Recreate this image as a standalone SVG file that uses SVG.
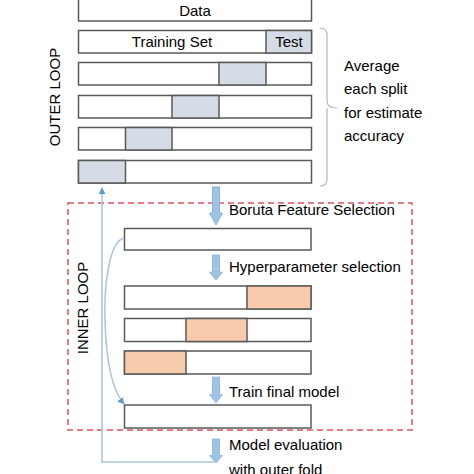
<svg xmlns="http://www.w3.org/2000/svg" width="474" height="474" viewBox="0 0 474 474">
<defs>
<style>
.box{fill:#fff;stroke:#595959;stroke-width:1.5}
.g{fill:#d6dce5;stroke:#595959;stroke-width:1.5}
.o{fill:#f8cbad;stroke:#595959;stroke-width:1.5}
.t{font-family:"Liberation Sans",Arial,sans-serif;font-size:15px;fill:#000}
.blk{fill:#9dc3e6;stroke:#8db3dc;stroke-width:1}
.ln{fill:none;stroke:#a8c4e0;stroke-width:1.5}
</style>
<marker id="ah" viewBox="0 0 10 10" refX="9" refY="5" markerWidth="7" markerHeight="7" orient="auto" markerUnits="userSpaceOnUse">
<path d="M0,0 L10,5 L0,10 z" fill="#5b9bd5"/>
</marker>
<path id="barrow" d="M-3.5,0 H3.5 V26 H6.5 L0,38 L-6.5,26 H-3.5 Z"/>
</defs>
<rect width="474" height="474" fill="#fff"/>

<g id="data"><rect class="box" x="78.5" y="-1" width="233" height="22"/><text class="t" x="195" y="16" text-anchor="middle">Data</text></g>
<g id="split1"><rect class="box" x="78.5" y="30.5" width="233" height="22.5"/><rect class="g" x="266" y="30.5" width="45.5" height="22.5"/><text class="t" x="172" y="47" text-anchor="middle">Training Set</text><text class="t" x="289" y="47" text-anchor="middle">Test</text></g>
<g id="split2"><rect class="box" x="78.5" y="62.5" width="233" height="22.5"/><rect class="g" x="219" y="62.5" width="47" height="22.5"/></g>
<g id="split3"><rect class="box" x="78.5" y="95.5" width="233" height="22.5"/><rect class="g" x="172" y="95.5" width="47" height="22.5"/></g>
<g id="split4"><rect class="box" x="78.5" y="127.5" width="233" height="22.5"/><rect class="g" x="125.5" y="127.5" width="46.5" height="22.5"/></g>
<g id="split5"><rect class="box" x="78.5" y="160.5" width="233" height="22.5"/><rect class="g" x="78.5" y="160.5" width="47" height="22.5"/></g>

<g id="outer-label"><text class="t" transform="translate(60,97) rotate(-90)" text-anchor="middle">OUTER LOOP</text></g>

<g id="brace"><path d="M320,28 Q327,28 327,35 V101 Q327,108 337,108 M327,108 Q327,108 327,115 V179 Q327,186 320,186" fill="none" stroke="#aab8c8" stroke-width="1.2"/></g>
<g id="avg-label"><text class="t"><tspan x="344" y="71">Average</tspan><tspan x="344" y="94">each split</tspan><tspan x="344" y="118">for estimate</tspan><tspan x="344" y="141">accuracy</tspan></text></g>

<g id="inner-frame"><rect x="68" y="203" width="344" height="227" fill="none" stroke="#e0525c" stroke-width="1.5" stroke-dasharray="6,4"/></g>
<g id="inner-label"><text class="t" transform="translate(88,308) rotate(-90)" text-anchor="middle">INNER LOOP</text></g>

<g id="selected"><rect class="box" x="124.5" y="228.5" width="186.5" height="21.5"/></g>
<g id="inner1"><rect class="box" x="124.5" y="286" width="186.5" height="23"/><rect class="o" x="247" y="286" width="64" height="23"/></g>
<g id="inner2"><rect class="box" x="124.5" y="318.5" width="186.5" height="23"/><rect class="o" x="186" y="318.5" width="61" height="23"/></g>
<g id="inner3"><rect class="box" x="124.5" y="351" width="186.5" height="23"/><rect class="o" x="124.5" y="351" width="61.5" height="23"/></g>
<g id="final"><rect class="box" x="124.5" y="405" width="186.5" height="23"/></g>

<g id="connectors">
<use href="#barrow" class="blk" x="216" y="187"/>
<use href="#barrow" class="blk" transform="translate(216,255) scale(1,0.66)"/>
<use href="#barrow" class="blk" transform="translate(216,377) scale(1,0.68)"/>
<use href="#barrow" class="blk" transform="translate(216,439) scale(1,0.63)"/>
<path class="ln" d="M214,462 H102 V188" marker-end="url(#ah)"/>
<path class="ln" d="M124,238 C108,242 104,290 105,320 C106,360 112,390 124,404" marker-end="url(#ah)"/>
</g>

<g id="step-labels">
<text class="t" x="229" y="215">Boruta Feature Selection</text>
<text class="t" x="229" y="272">Hyperparameter selection</text>
<text class="t" x="229" y="397">Train final model</text>
<text class="t" x="229" y="450">Model evaluation</text>
<text class="t" x="229" y="475">with outer fold</text>
</g>
</svg>
